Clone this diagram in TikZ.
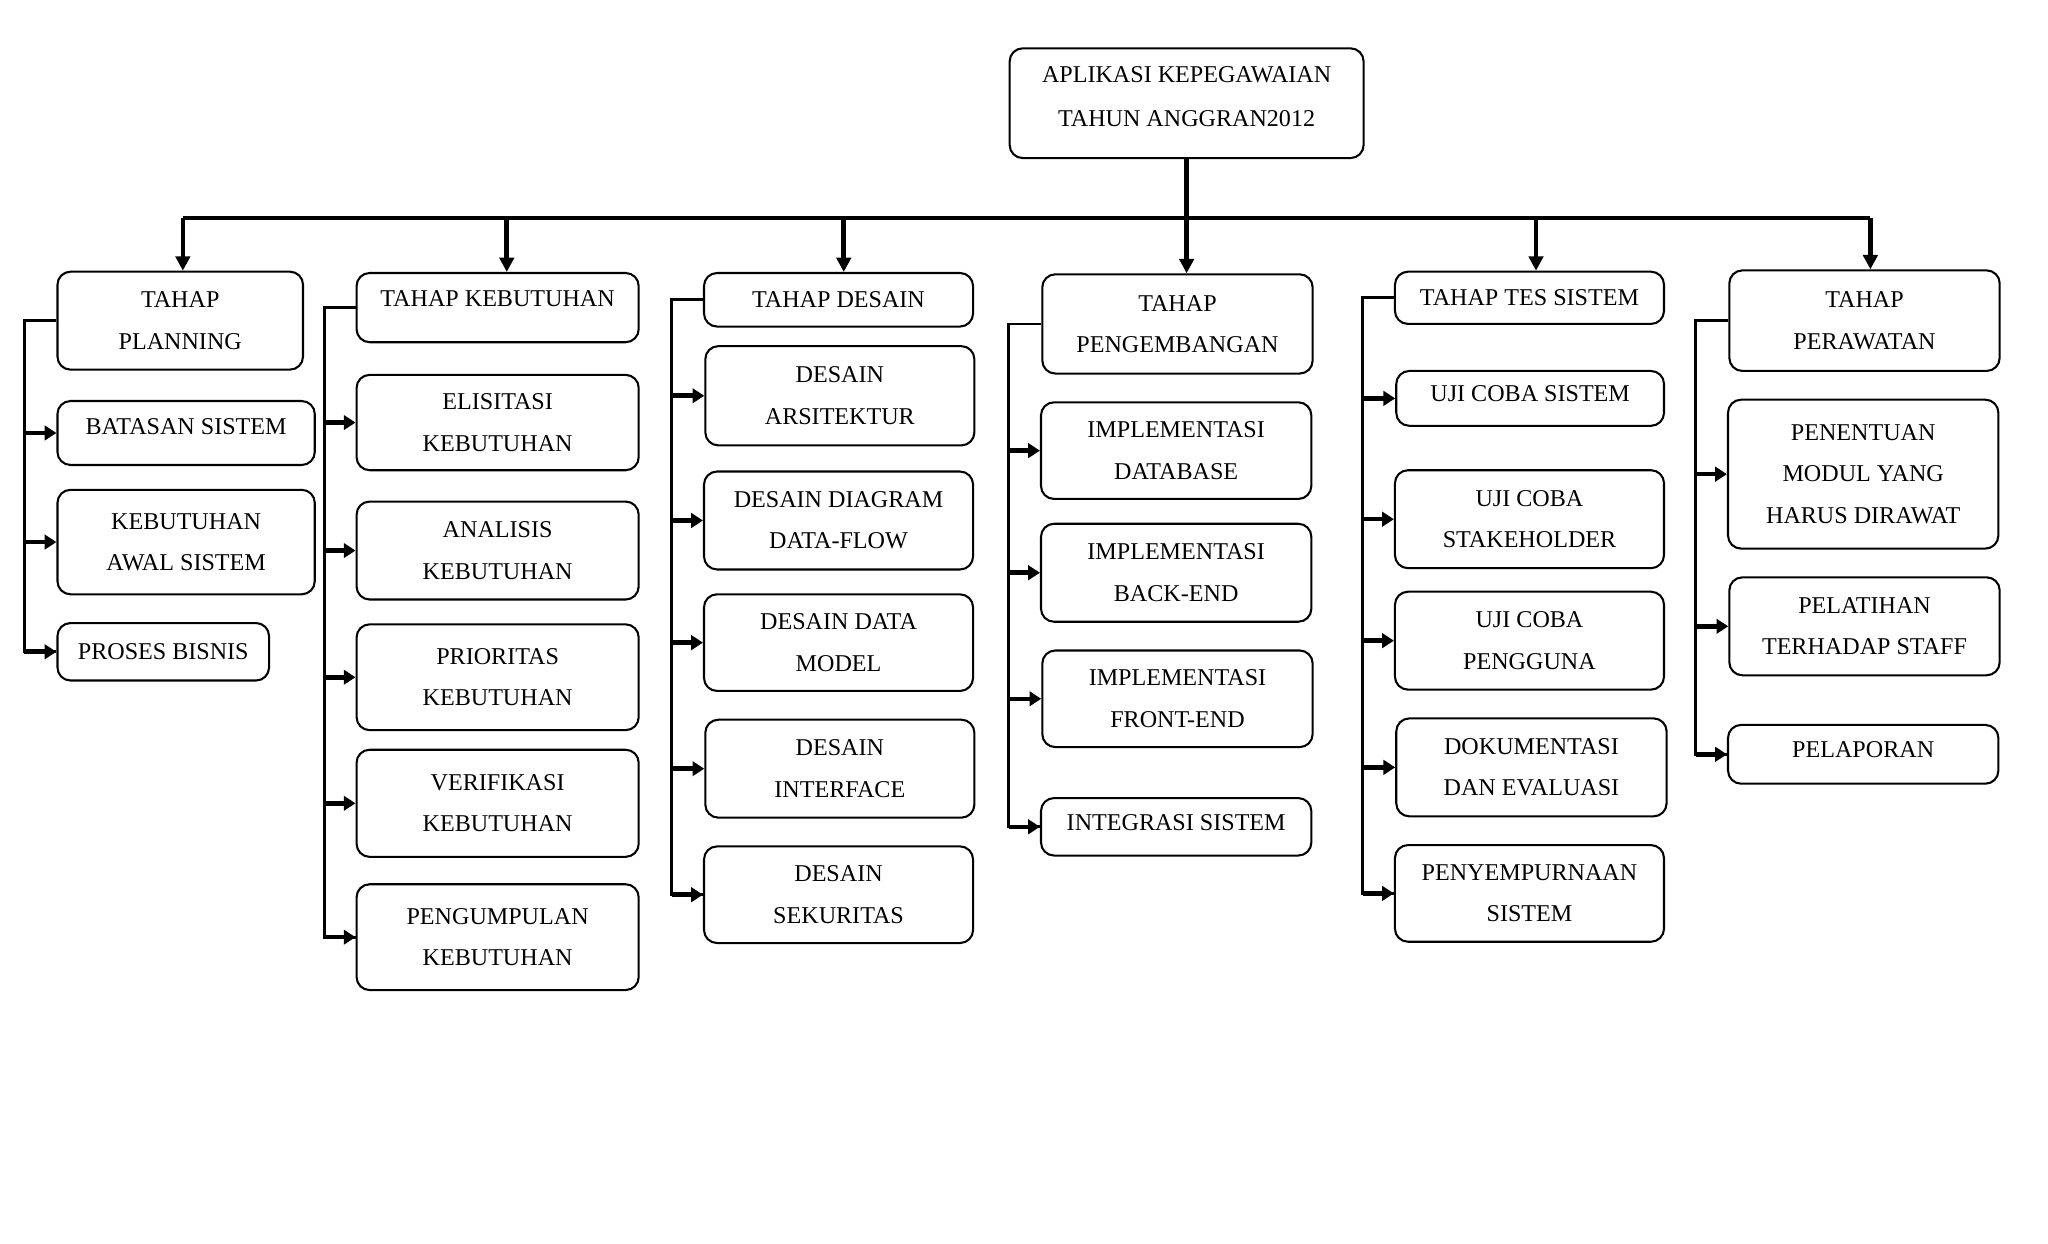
\documentclass[tikz,border=0pt]{standalone}
\usepackage{fontspec}
\setmainfont{Liberation Serif}
\usetikzlibrary{positioning,arrows.meta,calc}

\begin{document}
\begin{tikzpicture}[
  box/.style={draw=black, line width=0.9pt, rounded corners=2mm, fill=white, align=center, inner sep=1pt, font=\fontsize{10.5}{18}\selectfont},
  sz/.style 2 args={minimum width=#1cm, minimum height=#2cm},
  trunk/.style={line width=2pt},
  spine/.style={line width=1.2pt},
  stub/.style={line width=2pt, -{Triangle[length=1.8mm, width=2.2mm]}},
  drop/.style={line width=2pt, -{Triangle[length=2.2mm, width=2.2mm]}}]
\useasboundingbox (0,0) rectangle (31.36,-19.04);
\node[box, sz={5.42}{1.68}, text depth=6pt, font=\fontsize{10.5}{19}\selectfont] (root) at (18.17,-1.58) {APLIKASI KEPEGAWAIAN\\TAHUN ANGGRAN2012};
% planning
\node[box, sz={3.76}{1.50}] (plan)    at (2.76,-4.91) {TAHAP\\PLANNING};
\node[box, sz={3.94}{0.98}, text depth=6pt] (batasan) at (2.85,-6.63) {BATASAN SISTEM};
\node[box, sz={3.94}{1.60}] (awal)    at (2.85,-8.30) {KEBUTUHAN\\AWAL SISTEM};
\node[box, sz={3.24}{0.88}] (bisnis)  at (2.50,-9.98) {PROSES BISNIS};
% kebutuhan
\node[box, sz={4.32}{1.06}, text depth=7.5pt] (keb) at (7.62,-4.71) {TAHAP KEBUTUHAN};
\node[box, sz={4.32}{1.46}] (elis)   at (7.62,-6.47)  {ELISITASI\\KEBUTUHAN};
\node[box, sz={4.32}{1.50}] (anal)   at (7.62,-8.43)  {ANALISIS\\KEBUTUHAN};
\node[box, sz={4.32}{1.62}] (prior)  at (7.62,-10.37) {PRIORITAS\\KEBUTUHAN};
\node[box, sz={4.32}{1.64}] (verif)  at (7.62,-12.30) {VERIFIKASI\\KEBUTUHAN};
\node[box, sz={4.32}{1.62}] (kumpul) at (7.62,-14.35) {PENGUMPULAN\\KEBUTUHAN};
% desain
\node[box, sz={4.12}{0.82}] (desain) at (12.84,-4.59)  {TAHAP DESAIN};
\node[box, sz={4.12}{1.52}] (arsi)   at (12.86,-6.06)  {DESAIN\\ARSITEKTUR};
\node[box, sz={4.12}{1.50}] (dfd)    at (12.84,-7.97)  {DESAIN DIAGRAM\\DATA-FLOW};
\node[box, sz={4.12}{1.48}] (model)  at (12.84,-9.84)  {DESAIN DATA\\MODEL};
\node[box, sz={4.12}{1.50}] (inter)  at (12.86,-11.77) {DESAIN\\INTERFACE};
\node[box, sz={4.12}{1.48}] (sekur)  at (12.84,-13.70) {DESAIN\\SEKURITAS};
% pengembangan
\node[box, sz={4.14}{1.52}] (kembang) at (18.03,-4.96)  {TAHAP\\PENGEMBANGAN};
\node[box, sz={4.14}{1.48}] (impdb)   at (18.01,-6.90)  {IMPLEMENTASI\\DATABASE};
\node[box, sz={4.14}{1.50}] (back)    at (18.01,-8.77)  {IMPLEMENTASI\\BACK-END};
\node[box, sz={4.14}{1.48}] (front)   at (18.03,-10.70) {IMPLEMENTASI\\FRONT-END};
\node[box, sz={4.14}{0.88}, text depth=4pt] (integ) at (18.01,-12.66) {INTEGRASI SISTEM};
% tes sistem
\node[box, sz={4.12}{0.80}] (tes)      at (23.42,-4.56)  {TAHAP TES SISTEM};
\node[box, sz={4.10}{0.84}, text depth=4pt] (ujisis) at (23.43,-6.10) {UJI COBA SISTEM};
\node[box, sz={4.12}{1.50}] (stake)    at (23.42,-7.95)  {UJI COBA\\STAKEHOLDER};
\node[box, sz={4.12}{1.50}] (pengguna) at (23.42,-9.81)  {UJI COBA\\PENGGUNA};
\node[box, sz={4.14}{1.50}] (dok)      at (23.45,-11.75) {DOKUMENTASI\\DAN EVALUASI};
\node[box, sz={4.12}{1.48}] (sempurna) at (23.42,-13.68) {PENYEMPURNAAN\\SISTEM};
% perawatan
\node[box, sz={4.14}{1.54}] (rawat) at (28.55,-4.91)  {TAHAP\\PERAWATAN};
\node[box, sz={4.14}{2.28}] (modul) at (28.53,-7.26)  {PENENTUAN\\MODUL YANG\\HARUS DIRAWAT};
\node[box, sz={4.14}{1.50}] (latih) at (28.55,-9.59)  {PELATIHAN\\TERHADAP STAFF};
\node[box, sz={4.14}{0.90}, text depth=4pt] (lapor) at (28.53,-11.55) {PELAPORAN};

% bus from the root
\coordinate (d1) at (2.80,-3.34);
\coordinate (d2) at (7.76,-3.34);
\coordinate (d3) at (12.92,-3.34);
\coordinate (d5) at (23.52,-3.34);
\coordinate (d6) at (28.64,-3.34);
\draw[drop] (root.south) -- (root.south |- kembang.north);
\draw[trunk] (d1) -- (d6);
\draw[drop] (d1) -- (d1 |- plan.north);
\draw[drop] (d2) -- (d2 |- keb.north);
\draw[drop] (d3) -- (d3 |- desain.north);
\draw[drop] (d5) -- (d5 |- tes.north);
\draw[drop] (d6) -- (d6 |- rawat.north);

% spines in each column
\draw[spine] (plan.west) -- ++(-0.49,0) coordinate (s1) |- (bisnis.west);
\foreach \n in {batasan,awal,bisnis}
  \draw[stub] (s1 |- \n.west) -- (\n.west);
\draw[spine] (keb.west) -- ++(-0.48,0) coordinate (s2) |- (kumpul.west);
\foreach \n in {elis,anal,prior,verif,kumpul}
  \draw[stub] (s2 |- \n.west) -- (\n.west);
\draw[spine] (desain.west) -- ++(-0.48,0) coordinate (s3) |- (sekur.west);
\foreach \n in {arsi,dfd,model,inter,sekur}
  \draw[stub] (s3 |- \n.west) -- (\n.west);
\draw[spine] (kembang.west) -- ++(-0.50,0) coordinate (s4) |- (integ.west);
\foreach \n in {impdb,back,front,integ}
  \draw[stub] (s4 |- \n.west) -- (\n.west);
\draw[spine] (tes.west) -- ++(-0.48,0) coordinate (s5) |- (sempurna.west);
\foreach \n in {ujisis,stake,pengguna,dok,sempurna}
  \draw[stub] (s5 |- \n.west) -- (\n.west);
\draw[spine] (rawat.west) -- ++(-0.50,0) coordinate (s6) |- (lapor.west);
\foreach \n in {modul,latih,lapor}
  \draw[stub] (s6 |- \n.west) -- (\n.west);
\end{tikzpicture}
\end{document}
